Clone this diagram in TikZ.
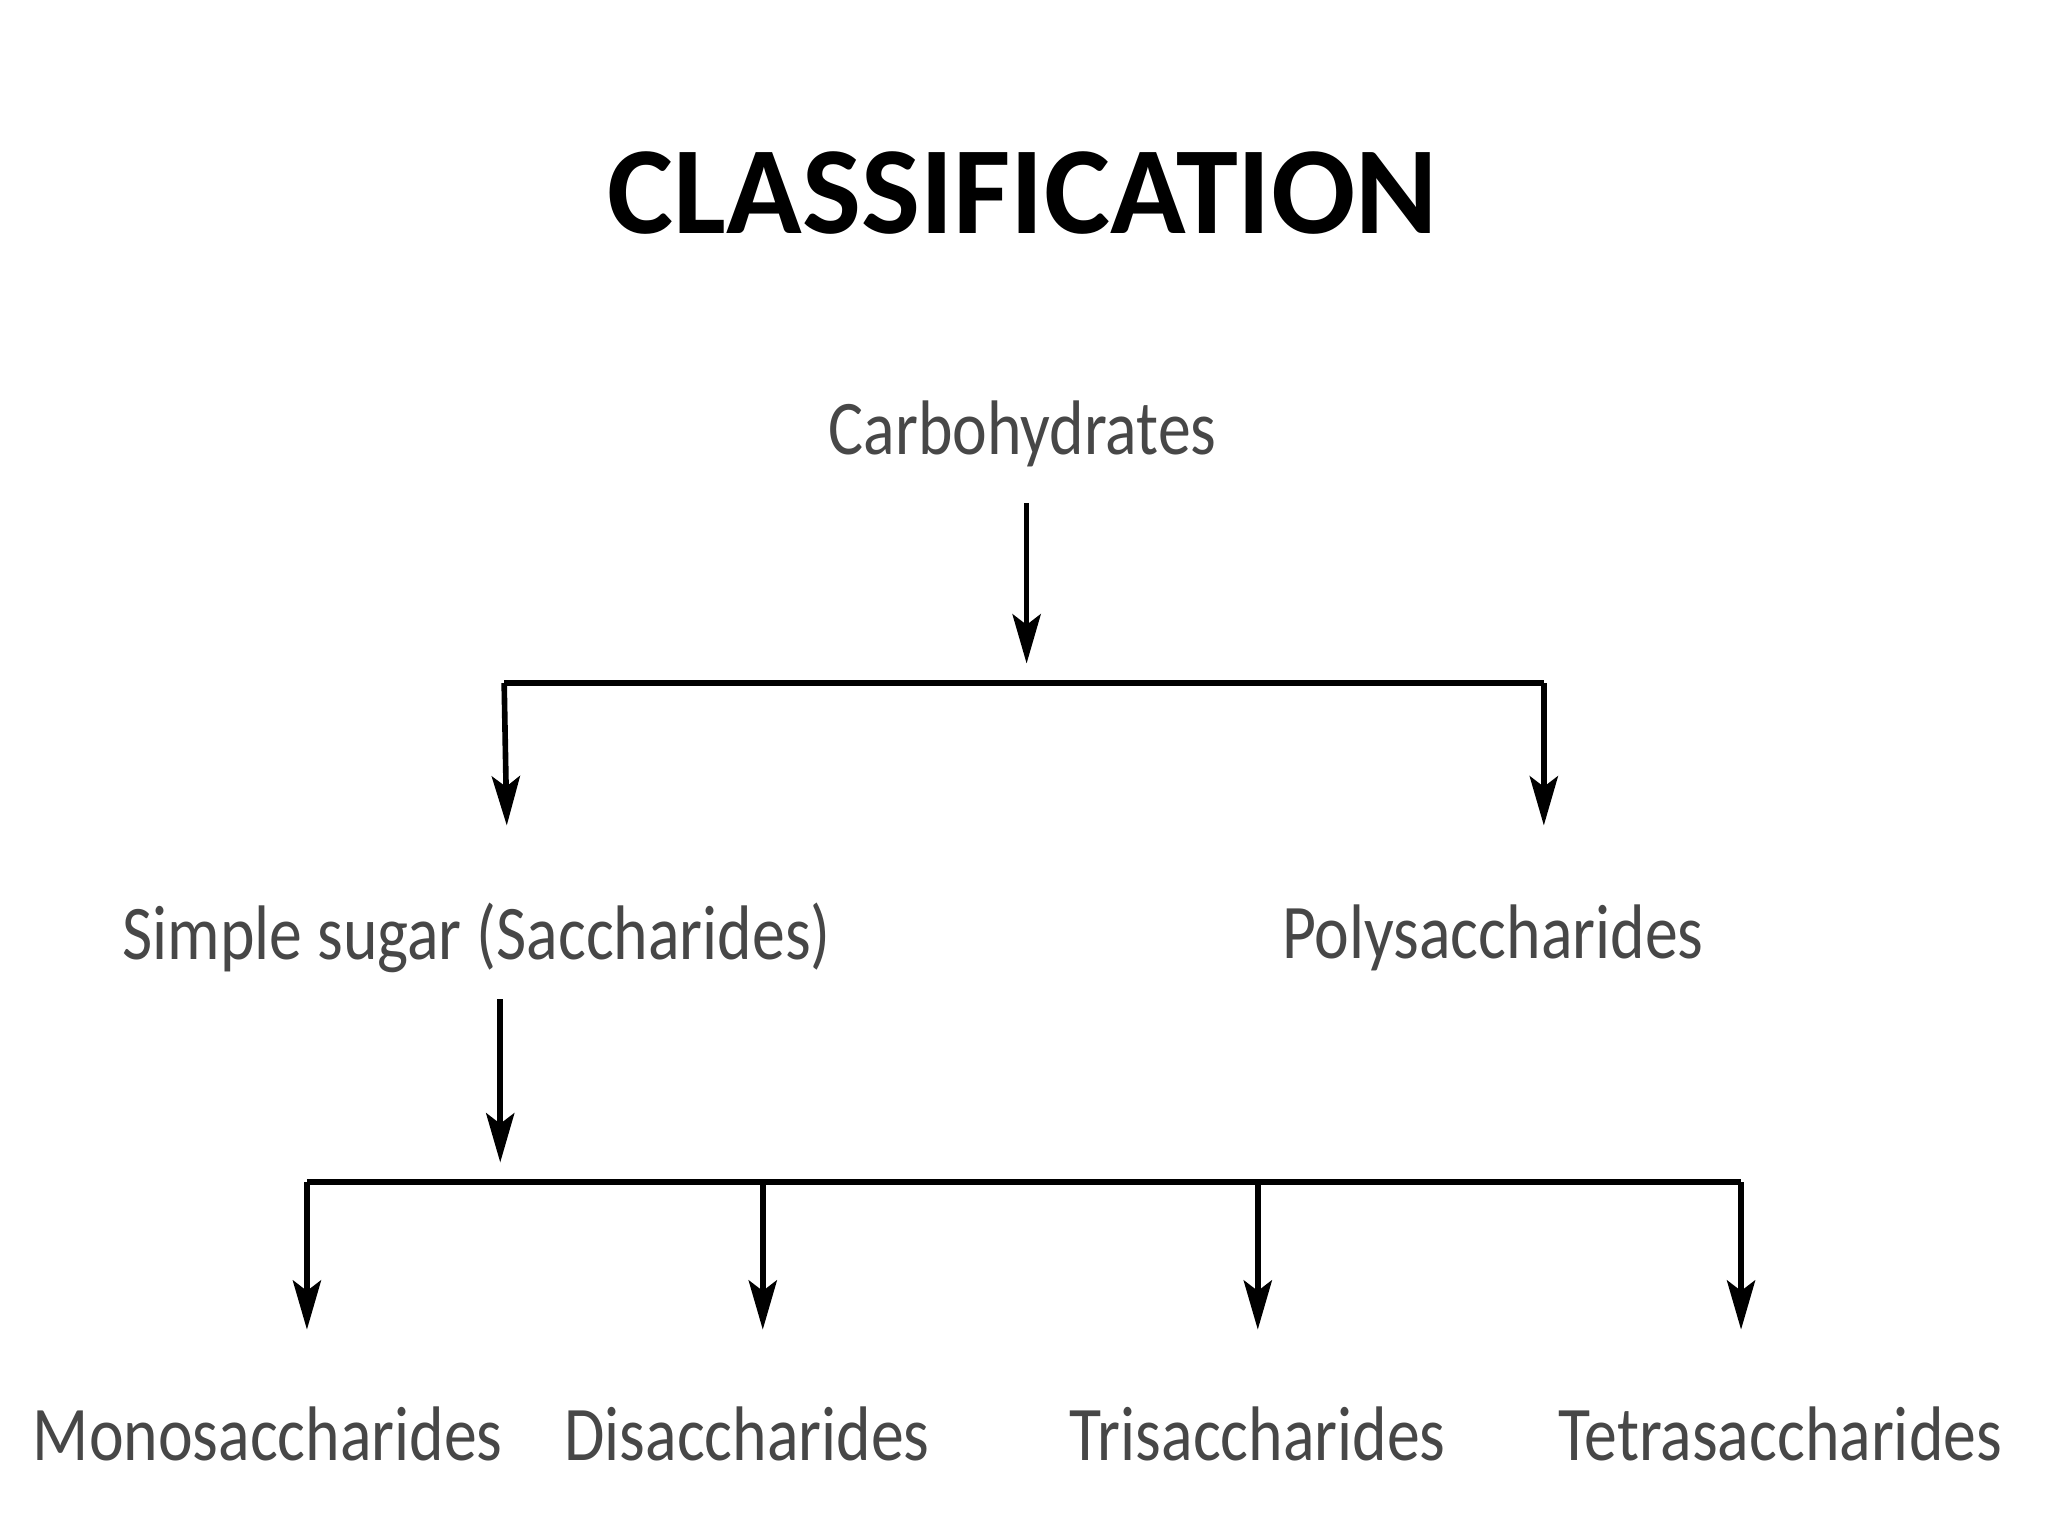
\documentclass[tikz,border=0pt]{standalone}
\usepackage{fontspec}
\setmainfont{Carlito}
\newfontfamily\condf[FakeStretch=0.85]{Carlito}
\usetikzlibrary{arrows.meta}
\begin{document}
\begin{tikzpicture}[x=0.013061cm,y=-0.013061cm,
  lbl/.style={font=\condf\fontsize{22}{24}\selectfont, text=black!72, inner sep=0pt},
  arr/.style={line width=1.6pt, -{Stealth[length=14pt,width=8pt,inset=3pt]}},
  ln/.style={line width=1.6pt}]
\useasboundingbox[fill=white] (0,0) rectangle (1568,1176);
\node[font=\fontsize{35.5}{40}\selectfont\bfseries, inner sep=0pt] (title) at (783,148) {CLASSIFICATION};
\node[lbl] (carb) at (783,332) {Carbohydrates};
\node[lbl] (simple) at (365,718) {Simple sugar (Saccharides)};
\node[lbl] (poly) at (1143,718) {Polysaccharides};
\node[lbl] (mono) at (205,1098) {Monosaccharides};
\node[lbl] (di) at (572,1098) {Disaccharides};
\node[lbl] (tri) at (963,1098) {Trisaccharides};
\node[lbl] (tetra) at (1363,1098) {Tetrasaccharides};
\coordinate (c1) at (786,385); \coordinate (j1) at (786,508);
\coordinate (l1) at (386,523); \coordinate (r1) at (1182,523);
\coordinate (sa) at (388,632); \coordinate (pa) at (1182,632);
\draw[arr] (c1) -- (j1);
\draw[ln] (l1) -- (r1);
\draw[arr] (l1) -- (sa);
\draw[arr] (r1) -- (pa);
\coordinate (c2) at (383,765); \coordinate (j2) at (383,890);
\coordinate (l2) at (235,905); \coordinate (r2) at (1333,905);
\draw[arr] (c2) -- (j2);
\draw[ln] (l2) -- (r2);
\foreach \x/\n in {235/mono,584/di,963/tri,1333/tetra}
  \draw[arr] (\x,905) -- (\x,1018);
\end{tikzpicture}
\end{document}
